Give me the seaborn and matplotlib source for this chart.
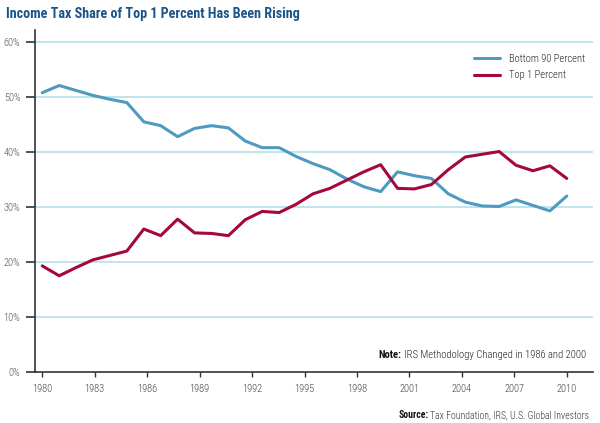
import numpy as np
import pandas as pd
import matplotlib
matplotlib.use("Agg")
import matplotlib.pyplot as plt
import seaborn as sns

# data (32 annual points, 1980-2011)
years = list(range(1980, 2012))
bottom_90 = [50.8, 52.1, 51.2, 50.3, 49.6, 49.0, 45.5, 44.8, 42.8, 44.3,
             44.8, 44.4, 42.0, 40.8, 40.8, 39.2, 37.9, 36.8, 35.1, 33.7,
             32.8, 36.4, 35.7, 35.2, 32.4, 30.9, 30.2, 30.1, 31.3, 30.3,
             29.3, 32.0]
top_1 = [19.3, 17.5, 19.0, 20.4, 21.2, 22.0, 26.0, 24.8, 27.8, 25.3,
         25.2, 24.8, 27.7, 29.2, 29.0, 30.5, 32.4, 33.4, 34.9, 36.4,
         37.7, 33.4, 33.3, 34.1, 36.8, 39.1, 39.6, 40.1, 37.6, 36.6,
         37.5, 35.2]
tick_labels = ["1980", "1983", "1986", "1989", "1992", "1995",
               "1998", "2001", "2004", "2007", "2010"]
y_ticks = [0, 10, 20, 30, 40, 50, 60]

df = pd.DataFrame({"year": years + years,
                   "share": bottom_90 + top_1,
                   "group": ["Bottom 90 Percent"] * len(years) + ["Top 1 Percent"] * len(years)})

sns.set_style("white")
plt.rcParams["font.family"] = ["Roboto Condensed", "DejaVu Sans"]

blue = "#4e9ac0"
red = "#a3093c"
grid_c = "#b3e0ea"

fig = plt.figure(figsize=(6, 4.23), dpi=100)
ax = fig.add_axes([35 / 600, 1 - 372 / 423, 558 / 600, 342 / 423])

for y in y_ticks[1:]:
    ax.axhline(y, color=grid_c, lw=1.2, zorder=0)

sns.lineplot(data=df, x="year", y="share", hue="group",
             palette={"Bottom 90 Percent": blue, "Top 1 Percent": red},
             lw=2.2, ax=ax, zorder=3)

ax.set_xlim(1979.57, 2012.55)
ax.set_ylim(0, 62.2)
ax.set_xticks(np.linspace(1980, 2011, len(tick_labels)))
ax.set_xticklabels(tick_labels, fontweight="light")
ax.set_yticks(y_ticks)
ax.set_yticklabels([f"{v}%" for v in y_ticks], fontweight="light")
ax.set_xlabel("")
ax.set_ylabel("")

for side in ["top", "right"]:
    ax.spines[side].set_visible(False)
for side in ["left", "bottom"]:
    ax.spines[side].set_color("#333333")
    ax.spines[side].set_linewidth(1.2)

ax.tick_params(axis="y", direction="out", length=6.5, width=1.2, color="#333333",
               labelsize=7.5, labelcolor="#555555", pad=4, left=True)
ax.tick_params(axis="x", direction="out", length=3.6, width=1, color="#333333",
               labelsize=7.5, labelcolor="#444444", pad=5, bottom=True)

leg = ax.legend(loc="upper right", bbox_to_anchor=(1.003, 0.958), frameon=False,
                prop={"size": 7.6, "weight": "light"},
                handlelength=2.4, handletextpad=0.9, labelspacing=0.62)
for line in leg.get_lines():
    line.set_linewidth(2.2)
for t in leg.get_texts():
    t.set_color("#222222")

fig.text(0.01, 0.967, "Income Tax Share of Top 1 Percent Has Been Rising",
         fontsize=10.2, fontweight="bold", color="#1b5488", ha="left", va="center")

note = ax.text(0.987, 0.05, "IRS Methodology Changed in 1986 and 2000",
               transform=ax.transAxes, ha="right", va="center", fontsize=7.7,
               fontweight="light", color="#222222")
src = fig.text(0.982, 0.018, "Tax Foundation, IRS, U.S. Global Investors", fontsize=7.0,
               fontweight="light", color="#333333", ha="right", va="center")
fig.canvas.draw()
inv = fig.transFigure.inverted()
nb = note.get_window_extent()
x0, y0 = inv.transform((nb.x0 - 2, (nb.y0 + nb.y1) / 2))
fig.text(x0, y0, "Note:", fontsize=7.7, fontweight="bold", color="#111111",
         ha="right", va="center")
sb = src.get_window_extent()
fig.text(sb.x0 / fig.bbox.width - 0.003, 0.018, "Source:", fontsize=7.0, fontweight="bold",
         color="#111111", ha="right", va="center")

fig.savefig("out.png", dpi=100)
